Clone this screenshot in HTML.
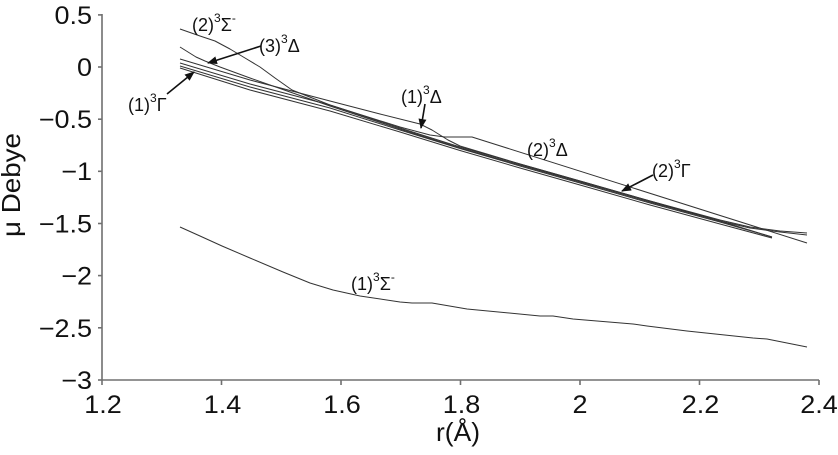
<!DOCTYPE html>
<html><head><meta charset="utf-8"><style>
html,body{margin:0;padding:0;background:#fff;}
svg{display:block;}
text{font-family:"Liberation Sans",Arial,sans-serif;fill:#111;}
</style></head><body>
<svg width="838" height="455" viewBox="0 0 838 455" xmlns="http://www.w3.org/2000/svg">
<rect width="838" height="455" fill="#fff"/>
<defs>
<marker id="ah" markerWidth="10" markerHeight="8" refX="9" refY="4" orient="auto" markerUnits="userSpaceOnUse">
<path d="M0,0 L10,4 L0,8 z" fill="#111"/>
</marker>
</defs>
<!-- axes -->
<g stroke="#707070" stroke-width="1.6" fill="none">
<line x1="102" y1="14" x2="102" y2="380.5"/>
<line x1="101.5" y1="380" x2="819" y2="380"/>
<line x1="98" y1="14.9" x2="102" y2="14.9"/>
<line x1="98" y1="67" x2="102" y2="67"/>
<line x1="98" y1="119.2" x2="102" y2="119.2"/>
<line x1="98" y1="171.3" x2="102" y2="171.3"/>
<line x1="98" y1="223.5" x2="102" y2="223.5"/>
<line x1="98" y1="275.6" x2="102" y2="275.6"/>
<line x1="98" y1="327.8" x2="102" y2="327.8"/>
<line x1="98" y1="380" x2="102" y2="380"/>
<line x1="102" y1="380" x2="102" y2="385"/>
<line x1="221.5" y1="380" x2="221.5" y2="385"/>
<line x1="341" y1="380" x2="341" y2="385"/>
<line x1="460.5" y1="380" x2="460.5" y2="385"/>
<line x1="580" y1="380" x2="580" y2="385"/>
<line x1="699.5" y1="380" x2="699.5" y2="385"/>
<line x1="819" y1="380" x2="819" y2="385"/>
</g>
<!-- y tick labels -->
<g font-size="25" text-anchor="end">
<text transform="translate(92,24) scale(1.08,1)">0.5</text>
<text transform="translate(92,76) scale(1.08,1)">0</text>
<text transform="translate(92,128) scale(1.08,1)">−0.5</text>
<text transform="translate(92,180) scale(1.08,1)">−1</text>
<text transform="translate(92,232.5) scale(1.08,1)">−1.5</text>
<text transform="translate(92,284.5) scale(1.08,1)">−2</text>
<text transform="translate(92,337) scale(1.08,1)">−2.5</text>
<text transform="translate(92,389) scale(1.08,1)">−3</text>
</g>
<!-- x tick labels -->
<g font-size="25" text-anchor="middle">
<text transform="translate(103,413) scale(1.08,1)">1.2</text>
<text transform="translate(222.5,413) scale(1.08,1)">1.4</text>
<text transform="translate(342,413) scale(1.08,1)">1.6</text>
<text transform="translate(461.5,413) scale(1.08,1)">1.8</text>
<text transform="translate(580,413) scale(1.08,1)">2</text>
<text transform="translate(700.5,413) scale(1.08,1)">2.2</text>
<text transform="translate(819,413) scale(1.08,1)">2.4</text>
</g>
<!-- axis titles -->
<text x="436" y="441" font-size="26" textLength="44" lengthAdjust="spacingAndGlyphs">r(Å)</text>
<text transform="translate(20,237) rotate(-90)" font-size="26" textLength="104" lengthAdjust="spacingAndGlyphs">μ Debye</text>
<!-- series -->
<g fill="none" stroke="#333" stroke-width="1" stroke-linejoin="round">
<polyline points="180,29 200,36 215,41 230,49 245,58 260,67 275,78 292,90 330,105 400,128 460,147 520,164 580,181 650,201 720,220 750,227 780,231 807,233"/>
<polyline points="180,47 188,52 196,57 205,61 220,67 250,78 290,92 330,106 400,129 460,148 520,165 580,182 650,202 720,221 750,228 780,232 807,235"/>
<polyline points="180,59 250,80 330,101 380,114 420,124 432,130 448,140 460,146 520,164 580,181 650,201 720,221 772,237"/>
<polyline points="180,63 250,84 330,105 400,127 430,135 445,137 472,137 807,243"/>
<polyline points="180,66 250,87 330,108 400,130 460,148.5 520,166 580,183 650,203 720,222 772,237"/>
<polyline points="180,68 250,90 330,111 400,132 460,150.5 520,168 580,185 650,205 720,224 772,238"/>
<polyline points="180,227 200,236 222,246 250,258 283,272 310,283 333,290 360,296 400,302 412,303 432,303 467,309 540,316 553,316 573,319 633,324 647,326 687,331 753,338 767,339 807,347"/>
</g>
<!-- arrows -->
<g stroke="#111" stroke-width="1.6" fill="none" marker-end="url(#ah)">
<line x1="261" y1="46" x2="208" y2="63"/>
<line x1="167" y1="94" x2="194" y2="72"/>
<line x1="425" y1="104" x2="421" y2="128"/>
<line x1="653" y1="175" x2="622" y2="191"/>
</g>
<!-- labels -->
<g font-size="18">
<text x="192" y="31">(2)<tspan font-size="12" dy="-9">3</tspan><tspan dy="9">Σ</tspan><tspan font-size="12" dy="-9">-</tspan></text>
<text x="259" y="52">(3)<tspan font-size="12" dy="-9">3</tspan><tspan dy="9">Δ</tspan></text>
<text x="128" y="111">(1)<tspan font-size="12" dy="-9">3</tspan><tspan dy="9">Γ</tspan></text>
<text x="401" y="103">(1)<tspan font-size="12" dy="-9">3</tspan><tspan dy="9">Δ</tspan></text>
<text x="527" y="156">(2)<tspan font-size="12" dy="-9">3</tspan><tspan dy="9">Δ</tspan></text>
<text x="652" y="177">(2)<tspan font-size="12" dy="-9">3</tspan><tspan dy="9">Γ</tspan></text>
<text x="351" y="290">(1)<tspan font-size="12" dy="-9">3</tspan><tspan dy="9">Σ</tspan><tspan font-size="12" dy="-9">-</tspan></text>
</g>
</svg>
</body></html>
